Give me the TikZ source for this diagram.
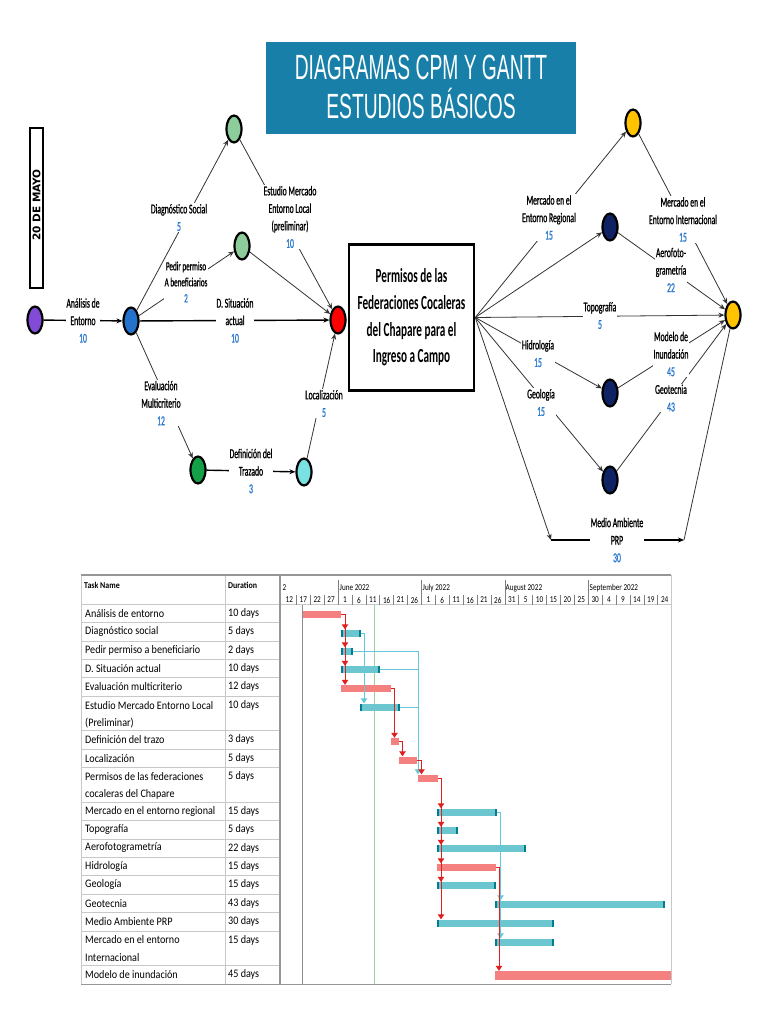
\documentclass[tikz,border=0pt]{standalone}
\usepackage{fontspec}
\setmainfont{Carlito}
\newfontfamily\lblfont[FakeStretch=0.57,FakeBold=0.9]{Carlito}
\newfontfamily\boxfont[FakeStretch=0.56]{Carlito}
\newfontfamily\ttlfont[FakeStretch=0.55]{Liberation Sans}
\newfontfamily\tblfont[FakeStretch=0.88]{Carlito}
\newfontfamily\hdrfont[FakeStretch=0.8]{Carlito}
\newfontfamily\mayofont{DejaVu Sans}
\usetikzlibrary{shapes.geometric,arrows.meta}
\definecolor{ctitle}{RGB}{24,128,168}
\definecolor{cpurple}{RGB}{130,75,215}
\definecolor{cblue}{RGB}{35,115,205}
\definecolor{clgreen}{RGB}{140,205,155}
\definecolor{cdgreen}{RGB}{20,160,70}
\definecolor{ccyan}{RGB}{120,225,225}
\definecolor{cyellow}{RGB}{255,195,0}
\definecolor{cnavy}{RGB}{15,35,100}
\definecolor{cnum}{RGB}{40,120,205}
\definecolor{cpink}{RGB}{244,128,128}
\definecolor{cteal}{RGB}{108,198,208}
\definecolor{ctealdk}{RGB}{0,125,145}
\definecolor{cred}{RGB}{225,30,30}
\definecolor{ctline}{RGB}{100,200,215}
\definecolor{cgline}{RGB}{150,210,150}
\definecolor{cgrid}{RGB}{200,200,200}
\definecolor{cframe}{RGB}{150,150,150}
\newcommand{\bnum}[1]{\textcolor{cnum}{#1}}
\begin{document}
\begin{tikzpicture}[x=1pt,y=-1pt,
 ev/.style={ellipse,draw=black,line width=2.2pt,minimum width=15pt,minimum height=27pt,inner sep=0pt},
 lbl/.style={fill=white,inner sep=0.8pt,align=center,font=\lblfont\fontsize{13.5}{17.5}\selectfont},
 lbls/.style={fill=white,inner sep=0.8pt,align=center,font=\lblfont\fontsize{12.5}{16}\selectfont},
 ln/.style={draw=black!80,line width=0.8pt},
 lnb/.style={draw=black,line width=1.4pt},
 tipc/.style={-{Stealth[length=6pt,width=5pt]}},
 tt/.style={anchor=west,inner sep=0pt,font=\tblfont\fontsize{11.5}{14}\selectfont},
 th/.style={anchor=west,inner sep=0pt,font=\tblfont\bfseries\fontsize{9}{11}\selectfont},
 hd/.style={inner sep=0pt,font=\hdrfont\fontsize{9}{10}\selectfont},
 grid/.style={draw=cgrid,line width=0.6pt},
 frame/.style={draw=cframe,line width=1.8pt},
 pbar/.style={fill=cpink,minimum height=7pt,inner sep=0pt,anchor=west},
 tbar/.style={fill=cteal,minimum height=7pt,inner sep=0pt,anchor=west,
   path picture={\fill[ctealdk] (path picture bounding box.south west) rectangle ([xshift=1.8pt]path picture bounding box.north west);
                 \fill[ctealdk] (path picture bounding box.south east) rectangle ([xshift=-1.8pt]path picture bounding box.north east);}},
 rc/.style={draw=cred,line width=1pt},
 tc/.style={draw=ctline,line width=1pt},
 gtip/.style={-{Triangle[length=5pt,width=6.5pt]}}
]
\useasboundingbox (0,0) rectangle (768,1024);
\fill[white] (0,0) rectangle (768,1024);

% ---------------- title ----------------
\node[fill=ctitle,minimum width=310pt,minimum height=92pt,inner sep=0pt,anchor=north west] (T) at (266,42) {};
\node[text=white,align=center,font=\ttlfont\fontsize{35}{39}\selectfont] (Tt) at (421,86.5) {DIAGRAMAS CPM Y GANTT\\ESTUDIOS BÁSICOS};

% ---------------- 20 de mayo ----------------
\node[draw,line width=2pt,minimum width=13pt,minimum height=160pt,inner sep=0pt] (M) at (36.5,208) {};
\node[rotate=90,inner sep=0pt,font=\mayofont\bfseries\fontsize{10.5}{11}\selectfont] (Mt) at (36.5,205) {20 DE MAYO};

% ---------------- CPM nodes ----------------
\node[ev,fill=cpurple] (A) at (35,320) {};
\node[ev,fill=cblue] (B) at (131,321) {};
\node[ev,fill=clgreen] (C) at (234,129) {};
\node[ev,fill=clgreen] (D) at (242,246) {};
\node[ev,fill=red] (E) at (338,320) {};
\node[ev,fill=cdgreen] (F) at (198,470) {};
\node[ev,fill=ccyan] (G) at (304,472) {};
\node[draw,line width=2.5pt,minimum width=125pt,minimum height=146pt,inner sep=0pt,align=center,
      font=\boxfont\bfseries\fontsize{20}{26.7}\selectfont] (P) at (411.5,317.5)
      {Permisos de las\\Federaciones Cocaleras\\del Chapare para el\\Ingreso a Campo};
\node[ev,fill=cyellow] (H) at (633,123) {};
\node[ev,fill=cnavy] (I) at (610,227) {};
\node[ev,fill=cyellow] (J) at (733,315) {};
\node[ev,fill=cnavy] (K) at (610,393) {};
\node[ev,fill=cnavy] (L) at (610,480) {};
\coordinate (MA1) at (551,540);
\coordinate (MA2) at (684,540);

% ---------------- CPM connectors ----------------
\draw[lnb,tipc] (A) -- (B);
\draw[ln,tipc] (B) -- (C);
\draw[ln,tipc] (B) -- (D);
\draw[lnb,tipc] (B) -- (E);
\draw[ln,tipc] (B) -- (F);
\draw[ln,tipc] (C) -- (E);
\draw[ln,tipc] (D) -- (E);
\draw[lnb,tipc] (F) -- (G);
\draw[ln,tipc] (G) -- (E);
\draw[ln,tipc] (P.east) -- (H);
\draw[ln,tipc] (P.east) -- (I);
\draw[ln,tipc] (P.east) -- (J);
\draw[ln,tipc] (P.east) -- (K);
\draw[ln,tipc] (P.east) -- (L);
\draw[ln,tipc] (P.east) -- (MA1);
\draw[lnb,tipc] (MA1) -- (MA2);
\draw[ln] (MA2) -- (J);
\draw[ln,tipc] (H) -- (J);
\draw[ln,tipc] (I) -- (J);
\draw[ln,tipc] (K) -- (J);
\draw[ln,tipc] (L) -- (J);

% ---------------- CPM labels ----------------
\node[lbl] (lA) at (83,320.5) {Análisis de\\Entorno\\\bnum{10}};
\node[lbl] (lDg) at (179,217.5) {Diagnóstico Social\\\bnum{5}};
\node[lbl] (lEm) at (290,217) {Estudio Mercado\\Entorno Local\\(preliminar)\\\bnum{10}};
\node[lbls] (lPp) at (186,282) {Pedir permiso\\A beneficiarios\\\bnum{2}};
\node[lbl] (lDs) at (235,320.5) {D. Situación\\actual\\\bnum{10}};
\node[lbl] (lEv) at (161,403) {Evaluación\\Multicriterio\\\bnum{12}};
\node[lbl] (lDf) at (251,471) {Definición del\\Trazado\\\bnum{3}};
\node[lbl] (lLc) at (324,403.5) {Localización\\\bnum{5}};
\node[lbl] (lMr) at (549,217.5) {Mercado en el\\Entorno Regional\\\bnum{15}};
\node[lbl] (lMi) at (683,219.5) {Mercado en el\\Entorno Internacional\\\bnum{15}};
\node[lbl] (lAe) at (671,270) {Aerofoto-\\grametría\\\bnum{22}};
\node[lbl] (lTp) at (600,315.5) {Topografía\\\bnum{5}};
\node[lbl] (lHi) at (538,353.5) {Hidrología\\\bnum{15}};
\node[lbl] (lMo) at (671,354) {Modelo de\\Inundación\\\bnum{45}};
\node[lbl] (lGe) at (541,402.5) {Geología\\\bnum{15}};
\node[lbl] (lGt) at (671,398) {Geotecnia\\\bnum{43}};
\node[lbl] (lMa) at (617,540) {Medio Ambiente\\PRP\\\bnum{30}};

% ---------------- Gantt table grid ----------------
\foreach \yy in {622.4,640.8,659.2,677.6,696,730.6,749,767.4,802,820.4,838.8,857.2,875.6,894,912.4,930.8,965.4}
  \draw[grid] (81,\yy) -- (280,\yy);
\draw[grid] (81,604.5) -- (671,604.5);
\draw[grid] (81,575) -- (81,984);
\draw[grid] (225,575) -- (225,984);
\draw[draw=cframe,line width=1.2pt] (280,575) -- (280,984);
\draw[grid] (671,575) -- (671,984);
\draw[frame] (81,575) -- (671,575);
\draw[frame] (81,984.5) -- (671,984.5);

% header texts
\node[th] (hT) at (84,585) {Task Name};
\node[th] (hD) at (228,585) {Duration};
\node[hd,anchor=west] (m0) at (282.5,588) {2};
\node[hd,anchor=west] (m1) at (339.5,588) {June 2022};
\node[hd,anchor=west] (m2) at (422.5,588) {July 2022};
\node[hd,anchor=west] (m3) at (505.5,588) {August 2022};
\node[hd,anchor=west] (m4) at (589.5,588) {September 2022};
\foreach \k in {4,10,16,22}
  \draw[draw=black!50,line width=0.6pt] (282.4+13.9*\k,580) -- (282.4+13.9*\k,595);
\foreach \k in {1,...,27}
  \draw[draw=black!50,line width=0.6pt] (282.4+13.9*\k,595) -- (282.4+13.9*\k,604.5);
\foreach \k/\lab in {0/12,1/17,2/22,3/27,4/1,5/6,6/11,7/16,8/21,9/26,10/1,11/6,12/11,13/16,14/21,15/26,16/31,17/5,18/10,19/15,20/20,21/25,22/30,23/4,24/9,25/14,26/19,27/24}
  \node[hd] (lt\k) at (282.4+13.9*\k+6.95,600) {\lab};

% date lines
\draw[draw=black!45,line width=0.8pt] (302,604.5) -- (302,984);
\draw[draw=cgline,line width=0.8pt] (374,604.5) -- (374,984);

% table texts
\node[tt] (n0) at (85,613.2) {Análisis de entorno};          \node[tt] (d0) at (228,613.2) {10 days};
\node[tt] (n1) at (85,631.6) {Diagnóstico social};           \node[tt] (d1) at (228,631.6) {5 days};
\node[tt] (n2) at (85,650) {Pedir permiso a beneficiario};   \node[tt] (d2) at (228,650) {2 days};
\node[tt] (n3) at (85,668.4) {D. Situación actual};          \node[tt] (d3) at (228,668.4) {10 days};
\node[tt] (n4) at (85,686.8) {Evaluación multicriterio};     \node[tt] (d4) at (228,686.8) {12 days};
\node[tt] (n5) at (85,705.2) {Estudio Mercado Entorno Local}; \node[tt] (d5) at (228,705.2) {10 days};
\node[tt] (n5b) at (85,722.6) {(Preliminar)};
\node[tt] (n6) at (85,739.8) {Definición del trazo};         \node[tt] (d6) at (228,739.8) {3 days};
\node[tt] (n7) at (85,758.2) {Localización};                 \node[tt] (d7) at (228,758.2) {5 days};
\node[tt] (n8) at (85,776.6) {Permisos de las federaciones}; \node[tt] (d8) at (228,776.6) {5 days};
\node[tt] (n8b) at (85,794) {cocaleras del Chapare};
\node[tt] (n9) at (85,811.2) {Mercado en el entorno regional}; \node[tt] (d9) at (228,811.2) {15 days};
\node[tt] (n10) at (85,829.6) {Topografía};                  \node[tt] (d10) at (228,829.6) {5 days};
\node[tt] (n11) at (85,848) {Aerofotogrametría};             \node[tt] (d11) at (228,848) {22 days};
\node[tt] (n12) at (85,866.4) {Hidrología};                  \node[tt] (d12) at (228,866.4) {15 days};
\node[tt] (n13) at (85,884.8) {Geología};                    \node[tt] (d13) at (228,884.8) {15 days};
\node[tt] (n14) at (85,903.2) {Geotecnia};                   \node[tt] (d14) at (228,903.2) {43 days};
\node[tt] (n15) at (85,921.6) {Medio Ambiente PRP};          \node[tt] (d15) at (228,921.6) {30 days};
\node[tt] (n16) at (85,940) {Mercado en el entorno};         \node[tt] (d16) at (228,940) {15 days};
\node[tt] (n16b) at (85,957.4) {Internacional};
\node[tt] (n17) at (85,974.6) {Modelo de inundación};        \node[tt] (d17) at (228,974.6) {45 days};

% ---------------- Gantt bars ----------------
\node[pbar,minimum width=38pt] (b0) at (303,614.5) {};
\node[tbar,minimum width=20pt] (b1) at (341,633) {};
\node[tbar,minimum width=12pt] (b2) at (341,651) {};
\node[tbar,minimum width=39pt] (b3) at (341,669.5) {};
\node[pbar,minimum width=50pt] (b4) at (341,688.5) {};
\node[tbar,minimum width=40pt] (b5) at (360,707) {};
\node[pbar,minimum width=8pt] (b6) at (391,741.5) {};
\node[pbar,minimum width=18pt] (b7) at (399,760) {};
\node[pbar,minimum width=20pt] (b8) at (418,778) {};
\node[tbar,minimum width=60pt] (b9) at (437,812) {};
\node[tbar,minimum width=21pt] (b10) at (437,830.5) {};
\node[tbar,minimum width=89pt] (b11) at (437,848.5) {};
\node[pbar,minimum width=59pt] (b12) at (437,867) {};
\node[tbar,minimum width=59pt] (b13) at (437,885.5) {};
\node[tbar,minimum width=170pt] (b14) at (495,904) {};
\node[tbar,minimum width=117pt] (b15) at (437,923) {};
\node[tbar,minimum width=59pt] (b16) at (495,942) {};
\node[pbar,minimum width=176pt,minimum height=9pt] (b17) at (495,975.5) {};

% ---------------- Gantt links ----------------
\coordinate (xr1) at (345,0);
\coordinate (xr2) at (394.5,0);
\coordinate (xr3) at (402.5,0);
\coordinate (xr4) at (421.5,0);
\coordinate (xr5) at (441,0);
\coordinate (xr6) at (499,0);
\coordinate (xt1) at (364,0);
\coordinate (xt2) at (418,0);
\coordinate (xt3) at (500.5,0);

\draw[tc,gtip] (b1.east) -- (xt1 |- b1.east) -- (xt1 |- b5.north);
\draw[tc] (b2.east) -- (xt2 |- b2.east);
\draw[tc] (b3.east) -- (xt2 |- b3.east);
\draw[tc] (b5.east) -- (xt2 |- b5.east);
\draw[tc,gtip] (xt2 |- b2.east) -- (xt2 |- b8.north);
\draw[tc,gtip] (b9.east) -- (xt3 |- b9.east) -- (xt3 |- b14.north);
\draw[tc,gtip] (xt3 |- b14.north) -- (xt3 |- b16.north);

\foreach \t in {b1,b2,b3,b4}
  \draw[rc,gtip] (b0.east) -- (xr1 |- b0.east) -- (xr1 |- \t.north);
\draw[rc,gtip] (b4.east) -- (xr2 |- b4.east) -- (xr2 |- b6.north);
\draw[rc,gtip] (b6.east) -- (xr3 |- b6.east) -- (xr3 |- b7.north);
\draw[rc,gtip] (b7.east) -- (xr4 |- b7.east) -- (xr4 |- b8.north);
\foreach \t in {b9,b10,b11,b12,b13,b15}
  \draw[rc,gtip] (b8.east) -- (xr5 |- b8.east) -- (xr5 |- \t.north);
\draw[rc,gtip] (b12.east) -- (xr6 |- b12.east) -- (xr6 |- b17.north);
\end{tikzpicture}
\end{document}
